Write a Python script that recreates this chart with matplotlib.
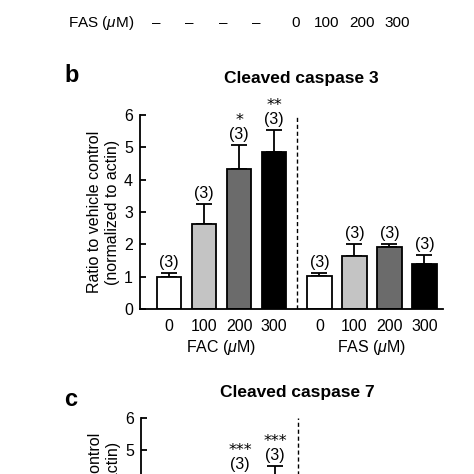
import matplotlib
matplotlib.use("Agg")
import matplotlib.pyplot as plt
from matplotlib.transforms import offset_copy

plt.rcParams['font.family'] = ['Liberation Sans', 'DejaVu Sans']
plt.rcParams['mathtext.fontset'] = 'custom'
plt.rcParams['mathtext.rm'] = 'Liberation Sans'
plt.rcParams['mathtext.it'] = 'Liberation Sans:italic'

# ---- data ----
doses = ['0', '100', '200', '300']
top_row_labels = ['–', '–', '–', '–', '0', '100', '200', '300']

b_fac_vals = [1.00, 2.63, 4.33, 4.86]
b_fac_err = [0.11, 0.62, 0.74, 0.69]
b_fas_vals = [1.01, 1.65, 1.92, 1.39]
b_fas_err = [0.09, 0.36, 0.10, 0.27]
b_fac_sig = ['', '', '*', '**']
b_fas_sig = ['', '', '', '']

c_fac_vals = [1.00, 2.60, 3.75, 3.95]
c_fac_err = [0.10, 0.50, 0.47, 0.55]
c_fas_vals = [1.00, 1.50, 1.80, 1.40]
c_fas_err = [0.10, 0.30, 0.20, 0.25]
c_fac_sig = ['', '', '***', '***']
c_fas_sig = ['', '', '', '']

n_labels = ['(3)', '(3)', '(3)', '(3)']
bar_colors = ['white', '#c4c4c4', '#6b6b6b', 'black']

W = 474.0
fig = plt.figure(figsize=(4.74, 4.74), dpi=100)

def px_axes(left, top_px, right, bottom_px):
    return fig.add_axes([left / W, 1 - bottom_px / W, (right - left) / W, (bottom_px - top_px) / W])

def draw_panel(ax, fac_vals, fac_err, fas_vals, fas_err, fac_sig, fas_sig):
    x_fac = [i for i in range(4)]
    x_fas = [i + 4.3 for i in range(4)]
    for xs, vals, errs, sigs in [(x_fac, fac_vals, fac_err, fac_sig),
                                 (x_fas, fas_vals, fas_err, fas_sig)]:
        ax.bar(xs, vals, width=0.69, color=bar_colors, edgecolor='black', linewidth=1.3, zorder=2)
        ax.errorbar(xs, vals, yerr=[[0] * 4, errs], fmt='none', ecolor='black',
                    elinewidth=1.3, capsize=6, capthick=1.3, zorder=1)
        for x, v, e, s, n in zip(xs, vals, errs, sigs, n_labels):
            t1 = offset_copy(ax.transData, fig=fig, x=0, y=3, units='dots')
            ax.text(x, v + e, n, transform=t1, ha='center', va='bottom', fontsize=11.5, clip_on=False)
            if s:
                t2 = offset_copy(ax.transData, fig=fig, x=0, y=17, units='dots')
                ax.text(x, v + e, s, transform=t2, ha='center', va='bottom', fontsize=11.5,
                        family='DejaVu Sans', clip_on=False)
    ax.axvline(3.66, ymin=0, ymax=1, color='black', linestyle=(0, (3, 2)), linewidth=1.0)
    ax.set_xlim(-0.83, 7.83)
    ax.set_ylim(0, 6)
    ax.set_yticks(range(7))
    ax.spines['top'].set_visible(False)
    ax.spines['right'].set_visible(False)
    ax.spines['left'].set_linewidth(1.3)
    ax.spines['bottom'].set_linewidth(1.3)
    ax.tick_params(axis='y', direction='in', length=4, width=1.3, labelsize=11.5, pad=5)
    ax.set_xticks(x_fac + x_fas)
    ax.set_xticklabels(doses + doses, fontsize=11.5)
    ax.tick_params(axis='x', length=0, pad=7)
    ax.set_ylabel('Ratio to vehicle control\n(normalized to actin)', fontsize=11.5, labelpad=3)
    ax.text(1.5, -1.18, 'FAC ($\\mu$M)', ha='center', va='center', fontsize=11.5)
    ax.text(5.8, -1.18, 'FAS ($\\mu$M)', ha='center', va='center', fontsize=11.5)
    ax.patch.set_alpha(0)

# top row (from panel a)
fig.text(68 / W, 1 - 23 / W, 'FAS ($\\mu$M)', ha='left', va='center', fontsize=11)
for xp, lab in zip([156, 189, 223, 256, 296, 327, 362, 397], top_row_labels):
    fig.text(xp / W, 1 - 23 / W, lab, ha='center', va='center', fontsize=11)

# panel b
fig.text(64 / W, 1 - 76 / W, 'b', ha='left', va='center', fontsize=17, fontweight='bold')
fig.text(301 / W, 1 - 78 / W, 'Cleaved caspase 3', ha='center', va='center', fontsize=12.5, fontweight='bold')
axb = px_axes(140, 115, 443, 309)
draw_panel(axb, b_fac_vals, b_fac_err, b_fas_vals, b_fas_err, b_fac_sig, b_fas_sig)

# panel c (cut off at bottom)
fig.text(64 / W, 1 - 399 / W, 'c', ha='left', va='center', fontsize=17, fontweight='bold')
fig.text(297 / W, 1 - 393 / W, 'Cleaved caspase 7', ha='center', va='center', fontsize=12.5, fontweight='bold')
axc = px_axes(141, 418, 444, 610)
draw_panel(axc, c_fac_vals, c_fac_err, c_fas_vals, c_fas_err, c_fac_sig, c_fas_sig)

fig.savefig('out.png', dpi=100)
